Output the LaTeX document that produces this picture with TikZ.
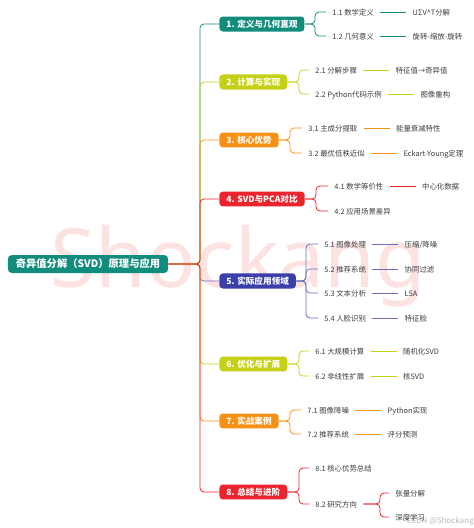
\documentclass[tikz,border=0pt]{standalone}
\usepackage{fontspec}
\setmainfont{Noto Sans CJK SC}
\newfontfamily\markfont{Noto Sans}
\usetikzlibrary{positioning}

\definecolor{cTeal}{RGB}{17,140,125}
\definecolor{cLime}{RGB}{196,209,22}
\definecolor{cOrange}{RGB}{246,145,22}
\definecolor{cRed}{RGB}{236,36,46}
\definecolor{cIndigo}{RGB}{58,64,168}
\definecolor{cText}{RGB}{60,60,60}
\definecolor{cMark}{RGB}{253,226,226}

\tikzset{every picture/.style={line width=0.8pt}}
\tikzset{
  rootbox/.style={fill=cTeal, text=white, rounded corners=4pt, font=\fontsize{10.3}{12}\selectfont\bfseries, inner xsep=8pt, minimum height=18pt},
  topicbox/.style={fill=#1, text=white, rounded corners=3.5pt, font=\fontsize{8.6}{10}\selectfont\bfseries, inner xsep=7pt, minimum height=14pt, anchor=west},
  subnode/.style={text=cText, font=\fontsize{7.4}{9}\selectfont, inner xsep=6pt, inner ysep=2pt, text height=0.8em, text depth=0.2em, anchor=west},
  leafnode/.style={subnode},
  wire/.style={draw=#1, rounded corners=4pt},
}

\begin{document}
\begin{tikzpicture}[x=1pt,y=1pt,yscale=-1,xscale=1]
\useasboundingbox (0,0) rectangle (474,528);

% watermark
\node[text=cMark, font=\markfont\fontsize{82}{82}\selectfont, anchor=base west, inner sep=0] (mark) at (50,287) {Shockang};
\node[text=gray!55, font=\fontsize{8}{9}\selectfont, anchor=base east, inner sep=0] (csdn) at (474,523) {CSDN @Shockang};

% root and main branches
\node[rootbox] (root) at (88,264) {奇异值分解（SVD）原理与应用};
\coordinate (trunk) at (200,0);

\node[topicbox=cTeal] (b1) at (219,24) {1. 定义与几何直观};
\node[topicbox=cLime] (b2) at (219,82) {2. 计算与实现};
\node[topicbox=cOrange] (b3) at (219,140) {3. 核心优势};
\node[topicbox=cRed] (b4) at (219,199) {4. SVD与PCA对比};
\node[topicbox=cIndigo] (b5) at (219,281) {5. 实际应用领域};
\node[topicbox=cLime] (b6) at (219,364) {6. 优化与扩展};
\node[topicbox=cOrange] (b7) at (219,421) {7. 实战案例};
\node[topicbox=cRed] (b8) at (219,492) {8. 总结与进阶};

\draw[wire=cTeal] (root.east) -- (trunk |- root.east) |- (b1.west);
\draw[wire=cLime] (root.east) -- (trunk |- root.east) |- (b2.west);
\draw[wire=cOrange] (root.east) -- (trunk |- root.east) |- (b3.west);
\draw[wire=cRed] (root.east) -- (trunk |- root.east) |- (b4.west);
\draw[wire=cIndigo!75] (root.east) -- (trunk |- root.east) |- (b5.west);
\draw[wire=cLime] (root.east) -- (trunk |- root.east) |- (b6.west);
\draw[wire=cOrange] (root.east) -- (trunk |- root.east) |- (b7.west);
\draw[wire=cRed] (root.east) -- (trunk |- root.east) |- (b8.west);

% 1
\coordinate (k1) at (315,0);
\node[subnode] (s11) at (326,12) {1.1 数学定义};
\node[subnode] (s12) at (326,36) {1.2 几何意义};
\node[leafnode, right=26pt of s11] (l11) {UΣV\textasciicircum T分解};
\node[leafnode, right=26pt of s12] (l12) {旋转-缩放-旋转};
\draw[wire=cTeal] (b1.east) -- (k1 |- b1.east) |- (s11.west);
\draw[wire=cTeal] (b1.east) -- (k1 |- b1.east) |- (s12.west);
\draw[wire=cTeal] (s11) -- (l11);
\draw[wire=cTeal] (s12) -- (l12);

% 2
\coordinate (k2) at (299,0);
\node[subnode] (s21) at (309,70) {2.1 分解步骤};
\node[subnode] (s22) at (309,94) {2.2 Python代码示例};
\node[leafnode, right=26pt of s21] (l21) {特征值→奇异值};
\node[leafnode, right=26pt of s22] (l22) {图像重构};
\draw[wire=cLime] (b2.east) -- (k2 |- b2.east) |- (s21.west);
\draw[wire=cLime] (b2.east) -- (k2 |- b2.east) |- (s22.west);
\draw[wire=cLime] (s21) -- (l21);
\draw[wire=cLime] (s22) -- (l22);

% 3
\coordinate (k3) at (290,0);
\node[subnode] (s31) at (302,128) {3.1 主成分提取};
\node[subnode] (s32) at (302,153) {3.2 最优低秩近似};
\node[leafnode, right=26pt of s31] (l31) {能量衰减特性};
\node[leafnode, right=26pt of s32] (l32) {Eckart-Young定理};
\draw[wire=cOrange] (b3.east) -- (k3 |- b3.east) |- (s31.west);
\draw[wire=cOrange] (b3.east) -- (k3 |- b3.east) |- (s32.west);
\draw[wire=cOrange] (s31) -- (l31);
\draw[wire=cOrange] (s32) -- (l32);

% 4
\coordinate (k4) at (316,0);
\node[subnode] (s41) at (328,186) {4.1 数学等价性};
\node[subnode] (s42) at (328,211) {4.2 应用场景差异};
\node[leafnode, right=26pt of s41] (l41) {中心化数据};
\draw[wire=cRed] (b4.east) -- (k4 |- b4.east) |- (s41.west);
\draw[wire=cRed] (b4.east) -- (k4 |- b4.east) |- (s42.west);
\draw[wire=cRed] (s41) -- (l41);

% 5
\coordinate (k5) at (306,0);
\node[subnode] (s51) at (318,244) {5.1 图像处理};
\node[subnode] (s52) at (318,269) {5.2 推荐系统};
\node[subnode] (s53) at (318,293) {5.3 文本分析};
\node[subnode] (s54) at (318,318) {5.4 人脸识别};
\node[leafnode, right=26pt of s51] (l51) {压缩/降噪};
\node[leafnode, right=26pt of s52] (l52) {协同过滤};
\node[leafnode, right=26pt of s53] (l53) {LSA};
\node[leafnode, right=26pt of s54] (l54) {特征脸};
\draw[wire=cIndigo!75] (b5.east) -- (k5 |- b5.east) |- (s51.west);
\draw[wire=cIndigo!75] (b5.east) -- (k5 |- b5.east) |- (s52.west);
\draw[wire=cIndigo!75] (b5.east) -- (k5 |- b5.east) |- (s53.west);
\draw[wire=cIndigo!75] (b5.east) -- (k5 |- b5.east) |- (s54.west);
\draw[wire=cIndigo!75] (s51) -- (l51);
\draw[wire=cIndigo!75] (s52) -- (l52);
\draw[wire=cIndigo!75] (s53) -- (l53);
\draw[wire=cIndigo!75] (s54) -- (l54);

% 6
\coordinate (k6) at (299,0);
\node[subnode] (s61) at (309,351) {6.1 大规模计算};
\node[subnode] (s62) at (309,376) {6.2 非线性扩展};
\node[leafnode, right=26pt of s61] (l61) {随机化SVD};
\node[leafnode, right=26pt of s62] (l62) {核SVD};
\draw[wire=cLime] (b6.east) -- (k6 |- b6.east) |- (s61.west);
\draw[wire=cLime] (b6.east) -- (k6 |- b6.east) |- (s62.west);
\draw[wire=cLime] (s61) -- (l61);
\draw[wire=cLime] (s62) -- (l62);

% 7
\coordinate (k7) at (290,0);
\node[subnode] (s71) at (301,410) {7.1 图像降噪};
\node[subnode] (s72) at (301,434) {7.2 推荐系统};
\node[leafnode, right=26pt of s71] (l71) {Python实现};
\node[leafnode, right=26pt of s72] (l72) {评分预测};
\draw[wire=cOrange] (b7.east) -- (k7 |- b7.east) |- (s71.west);
\draw[wire=cOrange] (b7.east) -- (k7 |- b7.east) |- (s72.west);
\draw[wire=cOrange] (s71) -- (l71);
\draw[wire=cOrange] (s72) -- (l72);

% 8
\coordinate (k8) at (299,0);
\coordinate (k82) at (380,0);
\node[subnode] (s81) at (309,468) {8.1 核心优势总结};
\node[subnode] (s82) at (309,504) {8.2 研究方向};
\node[leafnode] (l821) at (389,493) {张量分解};
\node[leafnode] (l822) at (389,517) {深度学习};
\draw[wire=cRed] (b8.east) -- (k8 |- b8.east) |- (s81.west);
\draw[wire=cRed] (b8.east) -- (k8 |- b8.east) |- (s82.west);
\draw[wire=cRed] (s82.east) -- (k82 |- s82.east) |- (l821.west);
\draw[wire=cRed] (s82.east) -- (k82 |- s82.east) |- (l822.west);

\end{tikzpicture}
\end{document}
